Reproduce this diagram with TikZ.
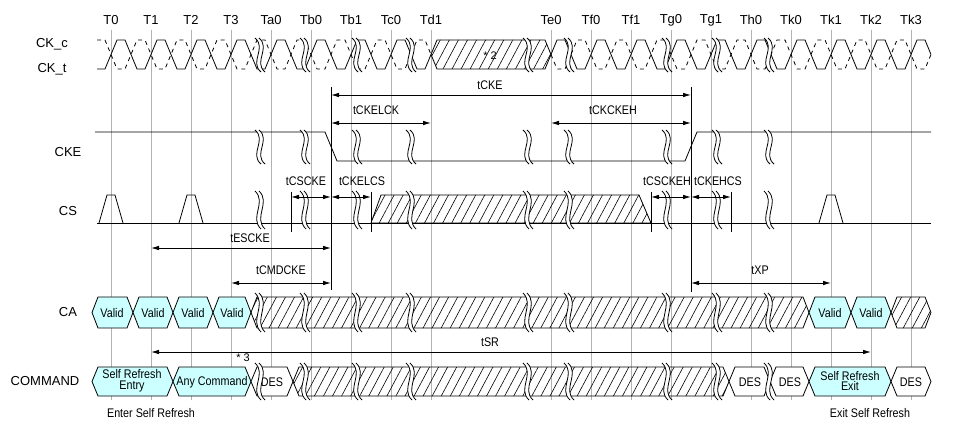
\documentclass[tikz,border=0pt]{standalone}
\usepackage{fontspec}
\setmainfont{Liberation Sans}
\newfontfamily\cond{Liberation Sans}[FakeStretch=0.86]
\usetikzlibrary{arrows.meta,patterns.meta}
\definecolor{cy}{HTML}{CCFFFF}
\newcommand\bus[5]{\path[#5] (#1,{(#3+#4)/2}) -- (#1+6,#3) -- (#2-6,#3) -- (#2,{(#3+#4)/2}) -- (#2-6,#4) -- (#1+6,#4) -- cycle;}
\newcommand\brk[3]{%
  \fill[white] (#1-3,#2) .. controls (#1+9,{#2+0.3*(#3-#2)}) and (#1-9,{#2+0.7*(#3-#2)}) .. (#1+3,#3)
     -- (#1+7,#3) .. controls (#1-5,{#2+0.7*(#3-#2)}) and (#1+13,{#2+0.3*(#3-#2)}) .. (#1+1,#2) -- cycle;
  \draw[line width=0.8pt] (#1-3,#2) .. controls (#1+9,{#2+0.3*(#3-#2)}) and (#1-9,{#2+0.7*(#3-#2)}) .. (#1+3,#3);
  \draw[line width=0.8pt] (#1+1,#2) .. controls (#1+13,{#2+0.3*(#3-#2)}) and (#1-5,{#2+0.7*(#3-#2)}) .. (#1+7,#3);}
\begin{document}
\begin{tikzpicture}[x=1pt,y=-1pt,
  sig/.style={line width=0.8pt},
  hatch/.style={draw,line width=0.8pt,pattern={Lines[angle=62,distance=8pt,line width=0.6pt]}},
  valid/.style={draw,line width=0.8pt,fill=cy},
  plain/.style={draw,line width=0.8pt,fill=white},
  dim/.style={{Latex[length=8pt,width=4.5pt]}-{Latex[length=8pt,width=4.5pt]},line width=0.8pt},
  vmark/.style={line width=0.8pt},
  tl/.style={font=\fontsize{13}{13}\selectfont,inner sep=0pt},
  lbl/.style={font=\cond\fontsize{12.5}{12.5}\selectfont,inner sep=0pt},
  bx/.style={font=\cond\fontsize{12.5}{10.5}\selectfont,inner sep=0pt,align=center}]
\useasboundingbox (0,0) rectangle (967,425);
% grid
\foreach \k/\n in {0/T0,1/T1,2/T2,3/T3,4/Ta0,5/Tb0,6/Tb1,7/Tc0,8/Td1,11/Te0,12/Tf0,13/Tf1,14/Tg0,15/Tg1,16/Th0,17/Tk0,18/Tk1,19/Tk2,20/Tk3}{
  \draw[gray!60,line width=0.8pt] ({111+40*\k},30) -- ({111+40*\k},400);
  \node[tl] (lab\n) at ({111+40*\k},20) {\n};}
% left labels
\node[tl] (nck) at (52,44) {CK\_c};
\node[tl] (nckt) at (52,69) {CK\_t};
\node[tl] (ncke) at (68,152) {CKE};
\node[tl] (ncs) at (68,211) {CS};
\node[tl] (nca) at (68,312) {CA};
\node[tl] (ncmd) at (45,381) {COMMAND};
% clock
\draw[sig] (97,69) \foreach \k in {0,...,7}{ -- ({105+40*\k},69) -- ({117+40*\k},40) -- ({125+40*\k},40) -- ({137+40*\k},69)} -- (425,69) -- (431,54.5);
\draw[sig,dash pattern=on 4pt off 4pt] (97,40) \foreach \k in {0,...,7}{ -- ({105+40*\k},40) -- ({117+40*\k},69) -- ({125+40*\k},69) -- ({137+40*\k},40)} -- (425,40) -- (431,54.5);
\bus{431}{551}{40}{69}{hatch}
\node[font=\fontsize{11}{11}\selectfont,inner sep=0pt] (n2) at (490,56) {* 2};
\draw[sig] (551,54.5) -- (557,40) -- (565,40) -- (577,69) \foreach \k in {12,...,19}{ -- ({105+40*\k},69) -- ({117+40*\k},40) -- ({125+40*\k},40) -- ({137+40*\k},69)} -- (905,69) -- (917,40) -- (925,40) -- (931,54.5);
\draw[sig,dash pattern=on 4pt off 4pt] (551,54.5) -- (557,69) -- (565,69) -- (577,40) \foreach \k in {12,...,19}{ -- ({105+40*\k},40) -- ({117+40*\k},69) -- ({125+40*\k},69) -- ({137+40*\k},40)} -- (905,40) -- (917,69) -- (925,69) -- (931,54.5);
% CKE
\draw[sig] (95,132) -- (325,132) -- (337,161) -- (685,161) -- (697,132) -- (931,132);
% CS
\draw[sig] (97,223) -- (931,223);
\foreach \c in {111,191,831}{\draw[sig] (\c-12,223) -- (\c-4,195) -- (\c+4,195) -- (\c+12,223);}
\path[hatch] (371,223) -- (381,195) -- (639,195) -- (651,223) -- cycle;
% CA
\bus{92}{133}{297}{328}{valid}
\bus{133}{173}{297}{328}{valid}
\bus{173}{213}{297}{328}{valid}
\bus{213}{251}{297}{328}{valid}
\bus{251}{809}{297}{328}{hatch}
\bus{809}{851}{297}{328}{valid}
\bus{851}{891}{297}{328}{valid}
\bus{891}{931}{297}{328}{hatch}
\foreach \c in {112,153,193,232,830,871}{\node[bx] at (\c,313) {Valid};}
% COMMAND
\bus{92}{173}{367}{396}{valid}
\bus{173}{251}{367}{396}{valid}
\bus{251}{293}{367}{396}{plain}
\bus{293}{729}{367}{396}{hatch}
\bus{729}{770}{367}{396}{plain}
\bus{770}{809}{367}{396}{plain}
\bus{809}{891}{367}{396}{valid}
\bus{891}{931}{367}{396}{plain}
\node[bx] (sre) at (132,381) {Self Refresh\\Entry};
\node[bx] (anyc) at (212,382) {Any Command};
\node[bx] (d1) at (272,382) {DES};
\node[bx] (d2) at (750,382) {DES};
\node[bx] (d3) at (790,382) {DES};
\node[bx] (srx) at (850,381) {Self Refresh\\Exit};
\node[bx] (d4) at (911,382) {DES};
% breaks
\foreach \b in {258,303,355,409,526,567,665,715,767}{
  \brk{\b}{38}{72}
  \brk{\b}{130}{164}
  \brk{\b}{191}{229}
  \brk{\b}{293}{332}
  \brk{\b}{363}{400}}
% timing markers
\coordinate (m1t) at (331,87); \coordinate (m1b) at (331,290);
\coordinate (m2t) at (691,87); \coordinate (m2b) at (691,292);
\draw[vmark] (m1t) -- (m1b);
\draw[vmark] (m2t) -- (m2b);
\draw[vmark] (291,192) -- (291,232);
\draw[vmark] (371,192) -- (371,232);
\draw[vmark] (651,192) -- (651,232);
\draw[vmark] (731,192) -- (731,232);
\draw[dim] (331,95) -- (691,95); \node[lbl] at (490,85) {tCKE};
\draw[dim] (331,123) -- (431,123); \node[lbl] at (376,110) {tCKELCK};
\draw[dim] (551,123) -- (691,123); \node[lbl] at (613,110) {tCKCKEH};
\draw[dim] (291,197) -- (331,197); \node[lbl] at (306,181) {tCSCKE};
\draw[dim] (331,197) -- (371,197); \node[lbl] at (362,181) {tCKELCS};
\draw[dim] (651,197) -- (691,197); \node[lbl] at (667,181) {tCSCKEH};
\draw[dim] (691,197) -- (731,197); \node[lbl] at (718,181) {tCKEHCS};
\draw[dim] (151,248) -- (331,248); \node[lbl] at (250,238) {tESCKE};
\draw[dim] (231,283) -- (331,283); \node[lbl] at (281,270) {tCMDCKE};
\draw[dim] (691,283) -- (831,283); \node[lbl] at (760,270) {tXP};
\draw[dim] (151,352) -- (871,352); \node[lbl] at (490,342) {tSR};
\node[font=\fontsize{11}{11}\selectfont,inner sep=0pt] (n3) at (243,358) {* 3};
\node[lbl] (ent) at (151,413) {Enter Self Refresh};
\node[lbl] (ext) at (870,413) {Exit Self Refresh};
\end{tikzpicture}
\end{document}
